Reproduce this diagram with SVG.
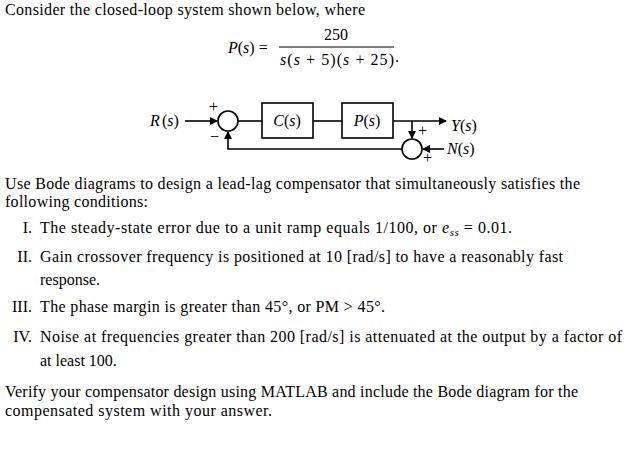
<svg xmlns="http://www.w3.org/2000/svg" width="644" height="453" viewBox="0 0 644 453">
<style>
text{font-family:"Liberation Serif","DejaVu Serif",serif;font-size:16px;fill:#000}
.m{font-style:italic}
.ln{stroke:#000;stroke-width:1.6;fill:none}
.bx{stroke:#000;stroke-width:1.6;fill:#fff}
</style>
<defs><marker id="a" markerWidth="8" markerHeight="8" refX="7" refY="4" orient="auto" markerUnits="userSpaceOnUse"><path d="M0,0 L8,4 L0,8 z" fill="#000"/></marker></defs>
<rect width="644" height="453" fill="#fff"/>
<text x="5" y="15" textLength="360">Consider the closed-loop system shown below, where</text>
<text x="228" y="53"><tspan class="m">P</tspan>(<tspan class="m">s</tspan>) =</text>
<text x="336" y="40" text-anchor="middle">250</text>
<line x1="279" y1="47" x2="394" y2="47" stroke="#000" stroke-width="1.2"/>
<text x="280" y="65" textLength="114"><tspan class="m">s</tspan>(<tspan class="m">s</tspan> + 5)(<tspan class="m">s</tspan> + 25)</text>
<text x="395" y="62">.</text>
<g id="connectors">
<line class="ln" x1="185" y1="121" x2="217" y2="121" marker-end="url(#a)"/>
<line class="ln" x1="238" y1="121" x2="262" y2="121"/>
<line class="ln" x1="313" y1="121" x2="342" y2="121"/>
<line class="ln" x1="393" y1="121" x2="446" y2="121" marker-end="url(#a)"/>
<line class="ln" x1="412" y1="121" x2="412" y2="138" marker-end="url(#a)"/>
<line class="ln" x1="444" y1="149" x2="423" y2="149" marker-end="url(#a)"/>
<polyline class="ln" points="402,149 228,149 228,132" marker-end="url(#a)"/>
</g>
<g id="sum1"><circle class="bx" cx="228" cy="121" r="10"/><text x="209" y="112" font-size="15">+</text><text x="210" y="142" font-size="15">−</text></g>
<g id="C"><rect class="bx" x="262" y="103" width="51" height="35"/><text x="287" y="126" text-anchor="middle"><tspan class="m">C</tspan>(<tspan class="m">s</tspan>)</text></g>
<g id="P"><rect class="bx" x="342" y="103" width="51" height="35"/><text x="367" y="126" text-anchor="middle"><tspan class="m">P</tspan>(<tspan class="m">s</tspan>)</text></g>
<g id="sum2"><circle class="bx" cx="412" cy="149" r="10"/><text x="418" y="136" font-size="15">+</text><text x="423" y="163" font-size="15">+</text></g>
<text x="150" y="126" class="m">R</text><text x="162" y="126">(<tspan class="m">s</tspan>)</text>
<text x="451" y="131"><tspan class="m">Y</tspan>(<tspan class="m">s</tspan>)</text>
<text x="447" y="154"><tspan class="m">N</tspan>(<tspan class="m">s</tspan>)</text>
<text x="5" y="189" textLength="575">Use Bode diagrams to design a lead-lag compensator that simultaneously satisfies the</text>
<text x="5" y="207" textLength="143">following conditions:</text>
<text x="32" y="233" text-anchor="end">I.</text>
<text x="40" y="233" textLength="472">The steady-state error due to a unit ramp equals 1/100, or <tspan class="m">e</tspan><tspan class="m" font-size="11" dy="3">ss</tspan><tspan dy="-3"> = 0.01.</tspan></text>
<text x="32" y="262" text-anchor="end">II.</text>
<text x="40" y="262" textLength="523">Gain crossover frequency is positioned at 10 [rad/s] to have a reasonably fast</text>
<text x="40" y="285">response.</text>
<text x="32" y="312" text-anchor="end">III.</text>
<text x="40" y="312" textLength="345">The phase margin is greater than 45°, or PM &gt; 45°.</text>
<text x="32" y="342" text-anchor="end">IV.</text>
<text x="40" y="342" textLength="582">Noise at frequencies greater than 200 [rad/s] is attenuated at the output by a factor of</text>
<text x="40" y="366">at least 100.</text>
<text x="5" y="397" textLength="573">Verify your compensator design using MATLAB and include the Bode diagram for the</text>
<text x="5" y="416" textLength="267">compensated system with your answer.</text>
</svg>
